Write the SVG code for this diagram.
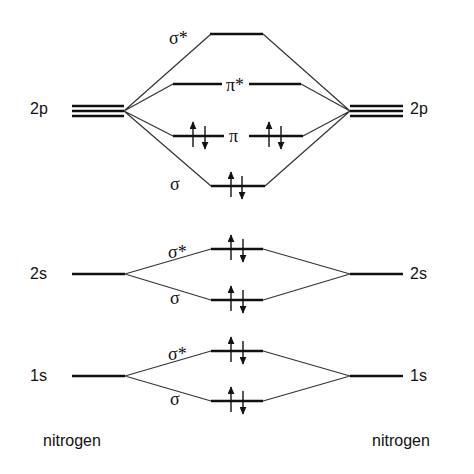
<svg xmlns="http://www.w3.org/2000/svg" width="474" height="474" viewBox="0 0 474 474">
<style>
.lvl{stroke:#111;stroke-width:2.6;fill:none}
.con{stroke:#333;stroke-width:1.2;fill:none}
.arr{stroke:#111;stroke-width:1.4;fill:none;marker-end:url(#ah)}
.lab{font-family:"Liberation Sans",Arial,sans-serif;font-size:16px;fill:#111}
.gr{font-family:"Liberation Serif","Times New Roman",serif;font-size:18px;fill:#111}
</style>
<defs>
<marker id="ah" viewBox="0 0 10 10" refX="9" refY="5" markerWidth="8" markerHeight="7" markerUnits="userSpaceOnUse" orient="auto" preserveAspectRatio="none"><path d="M0,0 L10,5 L0,10 Z" fill="#111"/></marker>
</defs>
<g id="connectors">
<path class="con" d="M124,111 L211,34 M124,111 L173,84 M124,111 L173,136 M124,111 L211,186"/>
<path class="con" d="M350,111 L263,34 M350,111 L301,84 M350,111 L303,136 M350,111 L265,186"/>
<path class="con" d="M125,274 L211,249 M125,274 L211,300 M350,274 L263,249 M350,274 L263,300"/>
<path class="con" d="M125,376 L211,351 M125,376 L211,401 M350,376 L263,351 M350,376 L263,401"/>
</g>
<g id="N-left-2p">
<path class="lvl" d="M72,106 H124 M72,111 H124 M72,116 H124" stroke-width="2.3"/>
<text class="lab" x="30" y="114">2p</text>
</g>
<g id="N-right-2p">
<path class="lvl" d="M350,106 H403 M350,111 H403 M350,116 H403" stroke-width="2.3"/>
<text class="lab" x="410" y="114">2p</text>
</g>
<g id="N-left-2s">
<path class="lvl" d="M72,274 H125"/>
<text class="lab" x="30" y="279">2s</text>
</g>
<g id="N-right-2s">
<path class="lvl" d="M350,274 H403"/>
<text class="lab" x="410" y="279">2s</text>
</g>
<g id="N-left-1s">
<path class="lvl" d="M72,376 H125"/>
<text class="lab" x="30" y="381">1s</text>
</g>
<g id="N-right-1s">
<path class="lvl" d="M350,376 H403"/>
<text class="lab" x="410" y="381">1s</text>
</g>
<g id="sigma-star-2p">
<path class="lvl" d="M210,34 H263"/>
<text class="gr" x="169" y="44">σ*</text>
</g>
<g id="pi-star-2p">
<path class="lvl" d="M173,84 H222 M249,84 H301"/>
<text class="gr" x="226" y="91">π*</text>
</g>
<g id="pi-2p">
<path class="lvl" d="M173,136 H224 M249,136 H303"/>
<text class="gr" x="229" y="142">π</text>
<line class="arr" x1="193" y1="147" x2="193" y2="122"/>
<line class="arr" x1="205" y1="126" x2="205" y2="149"/>
<line class="arr" x1="269" y1="147" x2="269" y2="122"/>
<line class="arr" x1="281" y1="126" x2="281" y2="149"/>
</g>
<g id="sigma-2p">
<path class="lvl" d="M211,186 H265"/>
<text class="gr" x="170" y="190">σ</text>
<line class="arr" x1="231" y1="197" x2="231" y2="172"/>
<line class="arr" x1="242" y1="176" x2="242" y2="199"/>
</g>
<g id="sigma-star-2s">
<path class="lvl" d="M211,249 H263"/>
<text class="gr" x="168" y="258">σ*</text>
<line class="arr" x1="231" y1="260" x2="231" y2="235"/>
<line class="arr" x1="243" y1="239" x2="243" y2="262"/>
</g>
<g id="sigma-2s">
<path class="lvl" d="M211,300 H263"/>
<text class="gr" x="170" y="304">σ</text>
<line class="arr" x1="231" y1="311" x2="231" y2="286"/>
<line class="arr" x1="243" y1="290" x2="243" y2="313"/>
</g>
<g id="sigma-star-1s">
<path class="lvl" d="M211,351 H263"/>
<text class="gr" x="168" y="360">σ*</text>
<line class="arr" x1="231" y1="362" x2="231" y2="337"/>
<line class="arr" x1="243" y1="341" x2="243" y2="364"/>
</g>
<g id="sigma-1s">
<path class="lvl" d="M211,401 H263"/>
<text class="gr" x="170" y="405">σ</text>
<line class="arr" x1="231" y1="412" x2="231" y2="387"/>
<line class="arr" x1="243" y1="391" x2="243" y2="414"/>
</g>
<g id="labels">
<text class="lab" x="43" y="446">nitrogen</text>
<text class="lab" x="372" y="446">nitrogen</text>
</g>
</svg>
